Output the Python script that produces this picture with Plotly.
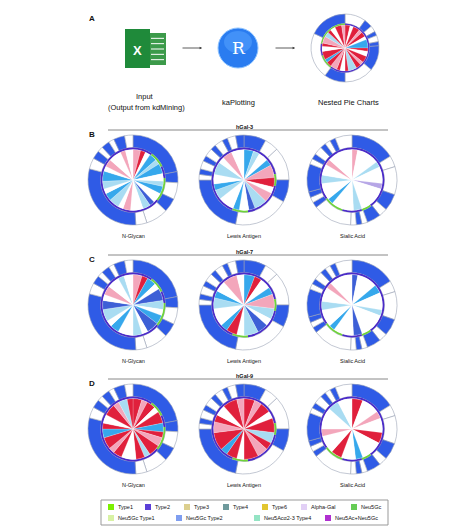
import plotly.graph_objects as go

W, H = 474, 529

# ---- colours for codes used in the data lists
OUTER = {"b": "#2f5be6", "w": "#ffffff"}
BAND = {"p": "#4b2bc8", "g": "#6fd33a", "w": "#ffffff"}
INNER = {"R": "#e0203c", "P": "#f3a6bb", "B": "#36a8ec", "L": "#a9dcf2",
         "N": "#3d5fd6", "W": "#ffffff", "V": "#b6a6e6"}

# ---- panel A pie
a_outer = [10, 4, 3, 2, 3, 2, 12, 14, 10, 22, 18]
a_outer_c = ["w", "b", "w", "b", "w", "b", "b", "w", "b", "w", "b"]
a_band = [60, 10, 8, 22]
a_band_c = ["p", "g", "p", "g"]
a_inner = [3, 2, 4, 2, 3, 2, 5, 2, 3, 4, 2, 3, 5, 2, 3, 2, 4, 3, 2, 5, 3, 2, 4, 3, 2, 3, 4, 2]
a_inner_c = ["R", "W", "R", "P", "R", "W", "B", "R", "W", "R", "P", "R", "L", "R", "W", "R",
             "P", "R", "B", "R", "W", "R", "P", "L", "R", "W", "R", "P"]

# ---- hGal-3 / hGal-7 / hGal-9 x N-Glycan, Lewis Antigen, Sialic Acid
outer_ng = [22, 4, 6, 5, 8, 4, 30, 4, 3, 2, 3, 2, 4, 3]
outer_ng_c = ["b", "b", "w", "b", "w", "w", "b", "w", "b", "w", "b", "w", "b", "w"]
outer_la = [8, 5, 12, 8, 20, 22, 2, 2, 3, 2, 3, 2, 3, 2, 3, 3]
outer_la_c = ["b", "w", "w", "b", "w", "b", "w", "b", "w", "b", "w", "b", "w", "b", "w", "b"]
outer_sa = [16, 4, 10, 6, 3, 5, 2, 2, 2, 14, 2, 2, 2, 10, 2, 2, 3, 2, 2, 2, 6]
outer_sa_c = ["b", "w", "w", "b", "w", "b", "w", "b", "w", "w", "b", "w", "b", "b", "w", "b",
              "w", "b", "w", "b", "w"]
band_ng = [10, 8, 6, 12, 64]
band_ng_c = ["p", "g", "p", "g", "p"]
band_la = [22, 6, 20, 8, 44]
band_la_c = ["p", "g", "p", "g", "p"]
band_sa = [40, 5, 10, 10, 35]
band_sa_c = ["p", "g", "p", "g", "p"]

inner_b_ng = [3, 2, 2, 3, 2, 4, 3, 2, 3, 4, 2, 3, 5, 3, 2, 4, 3, 2, 3, 4, 2, 3, 5, 2, 3]
inner_b_ng_c = ["P", "R", "W", "B", "L", "B", "W", "L", "B", "W", "N", "L", "W", "P", "W",
                "L", "B", "W", "L", "B", "W", "P", "W", "P", "W"]
inner_b_la = [3, 2, 3, 2, 4, 3, 2, 3, 4, 2, 3, 2, 5, 3, 2, 3, 4, 2, 3, 4]
inner_b_la_c = ["B", "L", "W", "B", "P", "R", "W", "P", "L", "N", "W", "B", "W", "L", "B",
                "W", "L", "W", "P", "W"]
inner_b_sa = [2, 8, 2, 6, 2, 10, 3, 8, 2, 6, 3, 4, 2, 9]
inner_b_sa_c = ["P", "W", "L", "W", "V", "W", "L", "W", "B", "W", "L", "W", "P", "W"]

inner_c_ng = [3, 2, 3, 2, 4, 3, 2, 3, 4, 2, 3, 5, 3, 2, 4, 3, 2, 3, 4, 2, 3]
inner_c_ng_c = ["P", "R", "B", "W", "N", "L", "W", "B", "N", "W", "L", "W", "B", "W",
                "L", "N", "W", "P", "W", "L", "W"]
inner_c_la = [3, 2, 3, 2, 4, 3, 2, 3, 4, 2, 3, 2, 5, 3, 2, 3, 4, 2]
inner_c_la_c = ["B", "R", "W", "B", "P", "L", "W", "N", "L", "W", "R", "B", "W", "L", "B",
                "W", "P", "W"]
inner_c_sa = [2, 7, 3, 6, 2, 9, 3, 7, 2, 6, 3, 5, 2, 8]
inner_c_sa_c = ["N", "W", "B", "W", "L", "W", "N", "W", "B", "W", "L", "W", "P", "W"]

inner_d_ng = [3, 2, 3, 2, 4, 3, 2, 3, 4, 2, 3, 5, 3, 2, 4, 3, 2, 3, 4, 2, 3, 2]
inner_d_ng_c = ["R", "P", "R", "W", "R", "B", "R", "P", "R", "L", "R", "W", "R", "P", "R",
                "B", "R", "W", "R", "P", "L", "R"]
inner_d_la = [3, 2, 3, 2, 4, 3, 2, 3, 4, 2, 3, 2, 5, 3, 2, 3, 4, 2]
inner_d_la_c = ["R", "P", "R", "W", "R", "L", "R", "P", "R", "W", "R", "B", "R", "P", "R",
                "W", "R", "P"]
inner_d_sa = [3, 5, 2, 4, 3, 6, 2, 4, 3, 5, 2, 6, 3, 4]
inner_d_sa_c = ["R", "W", "P", "W", "R", "W", "B", "W", "R", "W", "P", "W", "L", "W"]

row_titles = ["hGal-3", "hGal-7", "hGal-9"]
row_letters = ["B", "C", "D"]
col_titles = ["N-Glycan", "Lewis Antigen", "Sialic Acid"]
inner_rows = [
    [(inner_b_ng, inner_b_ng_c), (inner_b_la, inner_b_la_c), (inner_b_sa, inner_b_sa_c)],
    [(inner_c_ng, inner_c_ng_c), (inner_c_la, inner_c_la_c), (inner_c_sa, inner_c_sa_c)],
    [(inner_d_ng, inner_d_ng_c), (inner_d_la, inner_d_la_c), (inner_d_sa, inner_d_sa_c)],
]
outers = [(outer_ng, outer_ng_c), (outer_la, outer_la_c), (outer_sa, outer_sa_c)]
bands = [(band_ng, band_ng_c), (band_la, band_la_c), (band_sa, band_sa_c)]

legend_names = ["Type1", "Type2", "Type3", "Type4", "Type6", "Alpha-Gal", "Neu5Gc",
                "Neu5Gc Type1", "Neu5Gc Type2", "Neu5Acα2-3 Type4", "Neu5Ac+Neu5Gc"]
legend_colors = ["#7cf000", "#5b3fd8", "#dccf8e", "#6f9a9c", "#e2c630", "#e2d0f6",
                 "#66cc55", "#d8f2a4", "#7f9ef0", "#94e4c4", "#b030d0"]

fig = go.Figure()


def dom(cx, cy, r):
    return dict(x=[(cx - r) / W, (cx + r) / W], y=[1 - (cy + r) / H, 1 - (cy - r) / H])


def pie(vals, codes, cmap, cx, cy, r, hole, lw=0.4, lc="#ffffff"):
    fig.add_trace(go.Pie(values=vals, marker=dict(colors=[cmap[c] for c in codes],
                                                  line=dict(color=lc, width=lw)),
                         domain=dom(cx, cy, r), hole=hole, sort=False, direction="clockwise",
                         textinfo="none", hoverinfo="skip", showlegend=False))


def nested(cx, cy, r, outer, band, inner):
    pie(outer[0], outer[1], OUTER, cx, cy, r, 0.72, 0.6, "#9aa3b5")
    pie(band[0], band[1], BAND, cx, cy, r * 0.72, 0.94, 0)
    pie(inner[0], inner[1], INNER, cx, cy, r * 0.675, 0, 0.2)


nested(337, 40, 34, (a_outer, a_outer_c), (a_band, a_band_c), (a_inner, a_inner_c))

row_cy = [172, 297, 421]
col_cx = [125, 236, 344]
shapes, ann = [], []
for i, cy in enumerate(row_cy):
    for j, cx in enumerate(col_cx):
        nested(cx, cy, 45, outers[j], bands[j], inner_rows[i][j])
        ann.append(dict(x=cx, y=cy + 56, text=col_titles[j], font=dict(size=5.5)))
    ann.append(dict(x=236, y=cy - 53, text="<b>" + row_titles[i] + "</b>", font=dict(size=5.5)))
    ann.append(dict(x=84, y=cy - 46, text="<b>" + row_letters[i] + "</b>", font=dict(size=8)))
    shapes.append(dict(type="line", x0=100, x1=380, y0=cy - 50, y1=cy - 50,
                       line=dict(color="#888888", width=1)))

# panel A
ann += [
    dict(x=84, y=10, text="<b>A</b>", font=dict(size=8)),
    dict(x=137, y=88, text="Input", font=dict(size=7.5)),
    dict(x=138, y=99, text="(Output from kdMining)", font=dict(size=7.5)),
    dict(x=230, y=94, text="kaPlotting", font=dict(size=7.5)),
    dict(x=340, y=94, text="Nested Pie Charts", font=dict(size=7.5)),
    dict(x=129, y=42, text="<b>X</b>", font=dict(size=13, color="white")),
    dict(x=231, y=40, text="R", font=dict(size=17, color="white", family="DejaVu Serif")),
]
shapes += [
    dict(type="rect", x0=140, x1=158, y0=25, y1=57, fillcolor="#3c9a4a", line=dict(width=0)),
    dict(type="rect", x0=117, x1=142, y0=21, y1=60, fillcolor="#1f8a3a", line=dict(width=0)),
    dict(type="circle", x0=210, x1=250, y0=20, y1=60, fillcolor="#2a7cf0",
         line=dict(color="#8fc4ff", width=1)),
    dict(type="circle", x0=216, x1=244, y0=23, y1=45, fillcolor="#5aa6ff", opacity=0.5,
         line=dict(width=0)),
]
for k in range(1, 6):
    y = 25 + k * 32 / 6
    shapes.append(dict(type="line", x0=143, x1=156, y0=y, y1=y, line=dict(color="white", width=1)))
for ax0, ax1 in [(173, 194), (266, 287)]:
    ann.append(dict(x=ax1, y=40, ax=ax0, ay=40, axref="x", ayref="y", showarrow=True,
                    arrowhead=2, arrowsize=0.6, arrowwidth=0.8, arrowcolor="#333", text=""))

# legend box
shapes.append(dict(type="rect", x0=93, x1=380, y0=492, y1=517, line=dict(color="#999", width=1)))
leg_x = [100, 137, 176, 215, 254, 293, 343, 100, 168, 246, 317]
leg_y = [499] * 7 + [510] * 4
for name, col, x, y in zip(legend_names, legend_colors, leg_x, leg_y):
    shapes.append(dict(type="rect", x0=x, x1=x + 6, y0=y - 3, y1=y + 3, fillcolor=col,
                       line=dict(width=0)))
    ann.append(dict(x=x + 8, y=y, text=name, xanchor="left", font=dict(size=5.5)))

for a in ann:
    a.setdefault("showarrow", False)
    a.setdefault("xref", "x")
    a.setdefault("yref", "y")
    a["font"] = {"family": "Liberation Sans", "color": "#111111", **a.get("font", {})}
for s in shapes:
    s["xref"], s["yref"] = "x", "y"

fig.update_layout(width=W, height=H, margin=dict(l=0, r=0, t=0, b=0),
                  paper_bgcolor="white", plot_bgcolor="white",
                  xaxis=dict(range=[0, W], visible=False, fixedrange=True),
                  yaxis=dict(range=[H, 0], visible=False, fixedrange=True),
                  shapes=shapes, annotations=ann)
fig.write_html("out.html")
